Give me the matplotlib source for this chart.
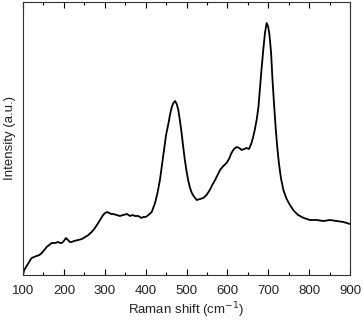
import matplotlib
matplotlib.use('Agg')
import matplotlib.pyplot as plt
from matplotlib.ticker import MultipleLocator

# Raman spectrum (intensity in arbitrary units)
shift = [100, 103, 109, 115, 121, 127, 133, 140, 146, 152, 158, 164, 170, 178, 186, 191,
         195, 200, 205, 210, 215, 219, 225, 235, 244, 252, 260, 268, 276, 284, 290, 296,
         301, 306, 311, 316, 321, 329, 337, 345, 354, 362, 368, 374, 382, 390, 394, 400,
         407, 415, 423, 429, 435, 440, 445, 450, 456, 460, 464, 468, 472, 476, 480, 484,
         488, 492, 496, 500, 504, 508, 513, 519, 525, 533, 541, 549, 557, 563, 570, 576,
         582, 590, 598, 604, 610, 616, 623, 629, 635, 641, 647, 653, 659, 663, 667, 672,
         676, 680, 684, 688, 692, 696, 700, 703, 707, 710, 714, 718, 722, 726, 731, 737,
         745, 753, 763, 773, 787, 802, 818, 835, 851, 867, 884, 900]
intensity = [0, 5, 9, 13, 17, 18, 19, 20, 22, 25, 28, 30, 32, 32, 33, 32,
             32, 34, 37, 35, 33, 33, 34, 35, 36, 38, 40, 43, 47, 52, 56, 60,
             62, 63, 62, 61, 61, 60, 59, 60, 61, 59, 60, 59, 59, 57, 58, 58,
             60, 63, 72, 82, 95, 110, 125, 140, 152, 161, 168, 172, 174, 171, 165, 154,
             142, 128, 115, 104, 95, 88, 82, 78, 75, 76, 77, 80, 85, 90, 95, 100,
             105, 109, 112, 116, 122, 126, 128, 127, 125, 126, 127, 126, 132, 138, 145, 156,
             168, 188, 208, 226, 242, 252, 248, 240, 222, 198, 172, 148, 128, 112, 97, 85,
             76, 70, 64, 60, 57, 55, 55, 54, 55, 54, 53, 51]

fig = plt.figure(figsize=(3.63, 3.2), dpi=100)
ax = fig.add_axes([23 / 363, 45 / 320, 327 / 363, 273 / 320])
ax.plot(shift, intensity, color='black', lw=1.3)

ax.set_xlim(100, 900)
ax.set_ylim(0, 273)
ax.xaxis.set_major_locator(MultipleLocator(100))
ax.xaxis.set_minor_locator(MultipleLocator(50))
ax.tick_params(axis='x', which='both', direction='in', top=True, labelsize=9.5, pad=7)
ax.tick_params(axis='x', which='major', length=4, width=0.8)
ax.tick_params(axis='x', which='minor', length=2.5, width=0.8)
ax.set_yticks([])
for sp in ax.spines.values():
    sp.set_linewidth(0.8)
    sp.set_color('#333333')

ax.set_xlabel('Raman shift (cm$^{-1}$)', fontsize=9.5, labelpad=3)
ax.set_ylabel('Intensity (a.u.)', fontsize=9.5, labelpad=5)

for t in ax.get_xticklabels() + [ax.xaxis.label, ax.yaxis.label]:
    t.set_family(['Liberation Sans', 'DejaVu Sans'])
    t.set_color('#222222')

fig.savefig('out.png', dpi=100)
